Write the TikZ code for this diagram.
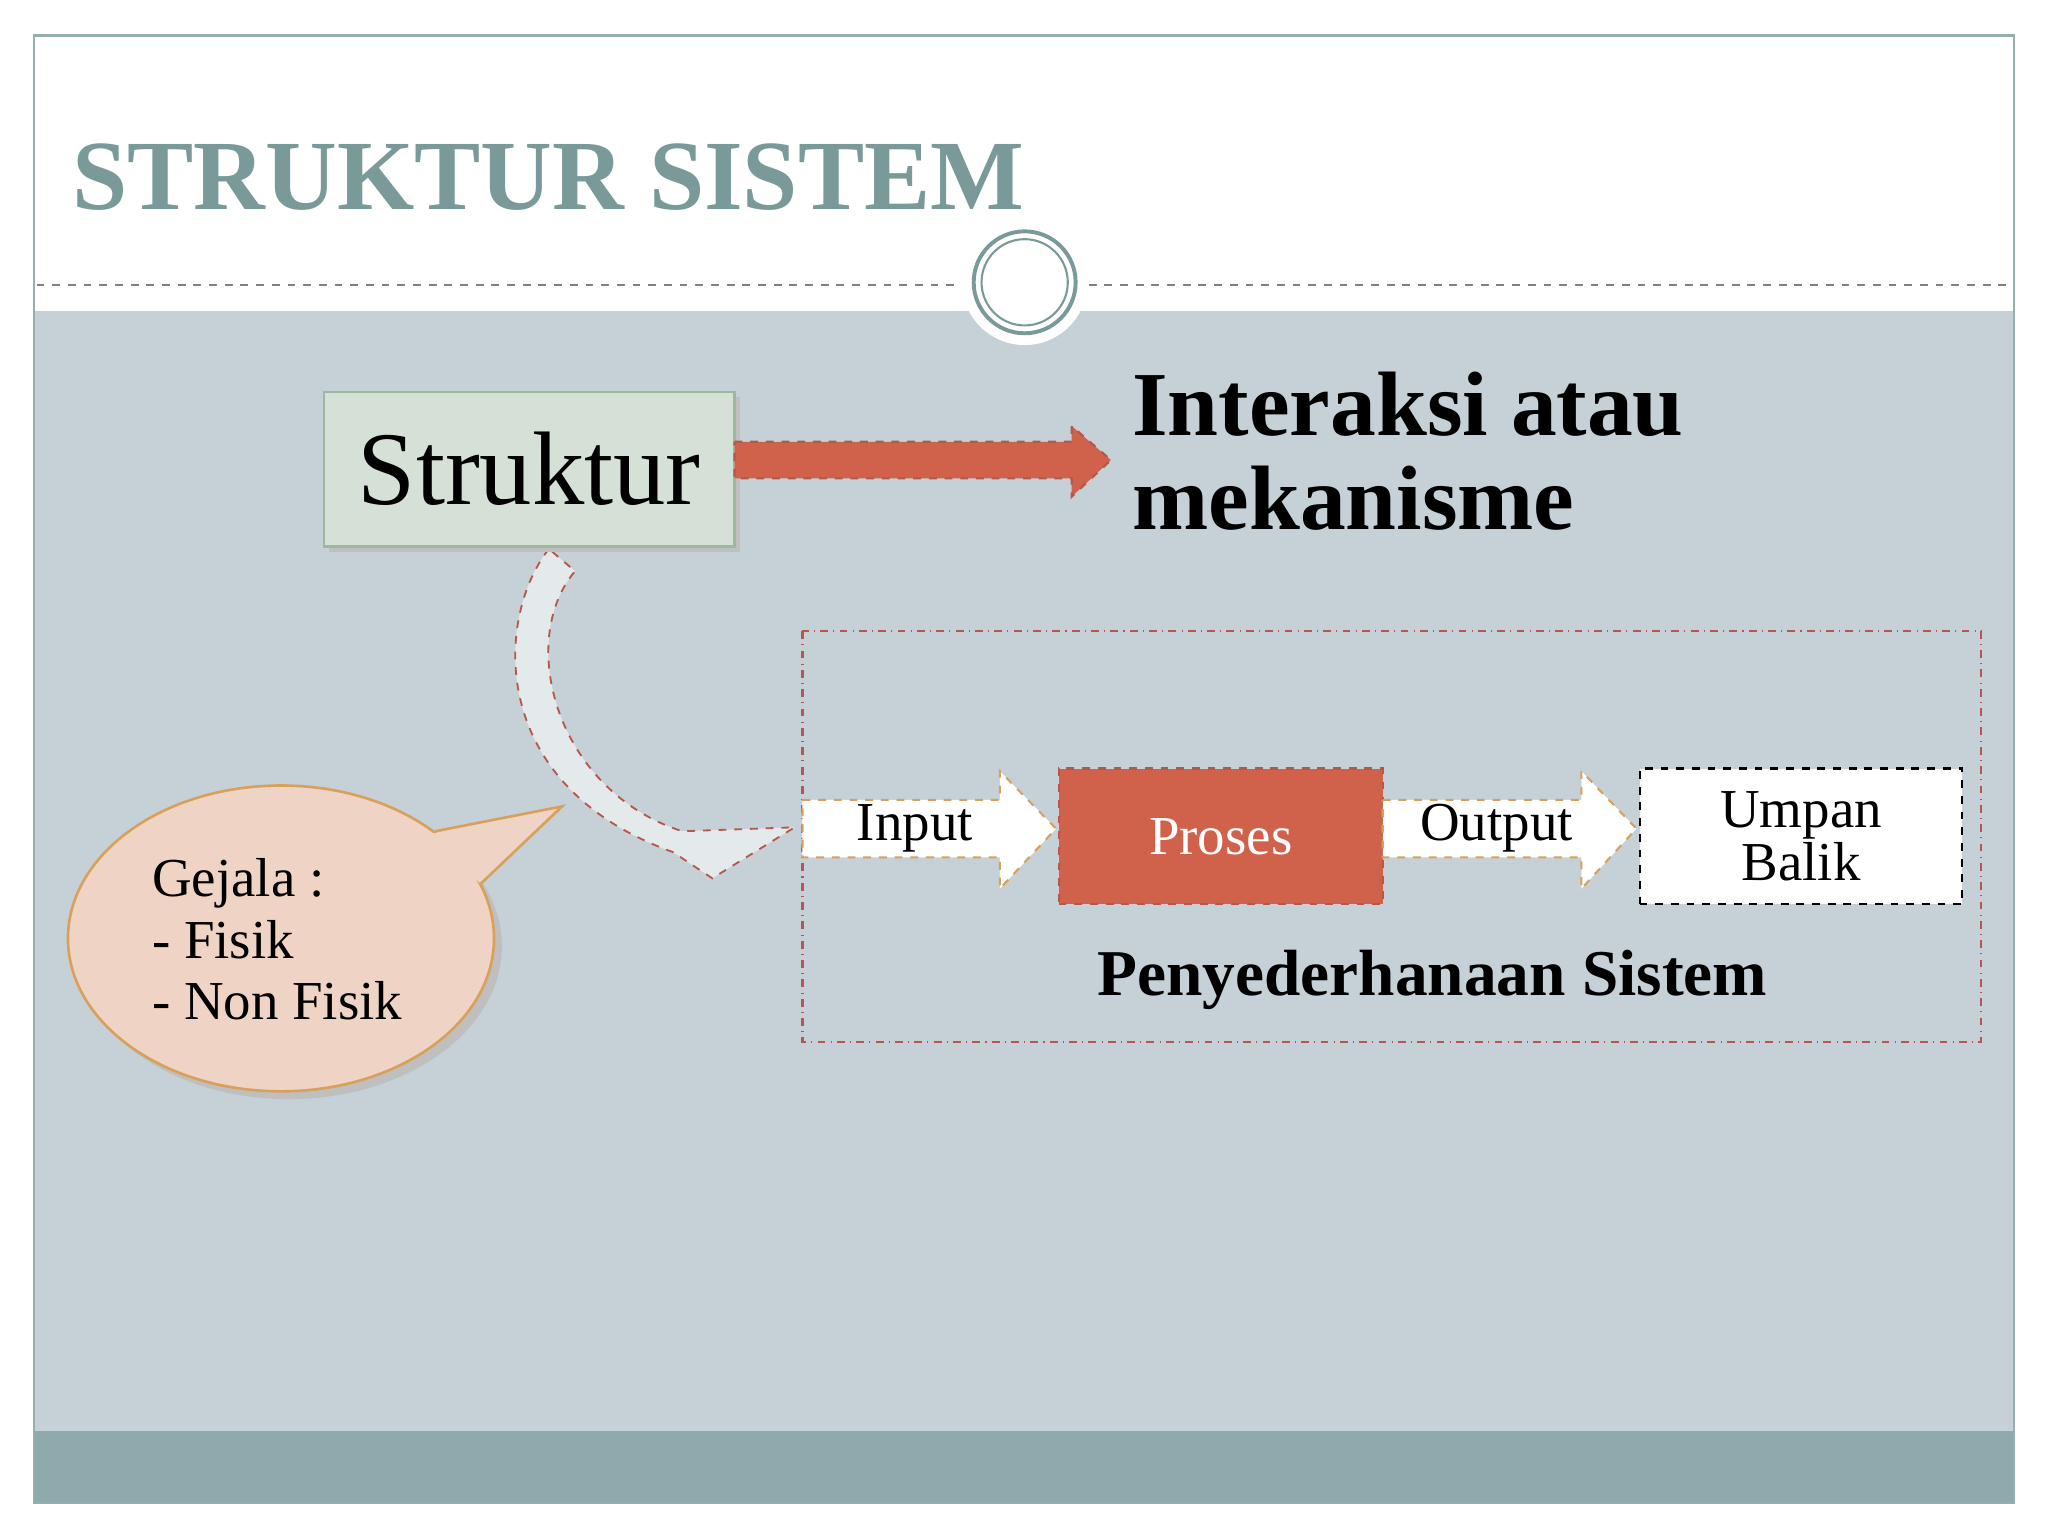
\documentclass[tikz,border=0pt]{standalone}
\usepackage{fontspec}
\setmainfont{Liberation Serif}
\definecolor{bgblue}{HTML}{C5D1D6}
\definecolor{band}{HTML}{8EAAAD}
\definecolor{teal}{HTML}{7A9A9A}
\definecolor{redf}{HTML}{D0614A}
\definecolor{redd}{HTML}{B5574A}
\definecolor{orng}{HTML}{D9A05A}
\definecolor{greenf}{HTML}{D5E0D6}
\definecolor{greend}{HTML}{9DB89F}
\definecolor{peach}{HTML}{EFD3C5}
\newcommand{\fs}[1]{\fontsize{#1}{1.2\dimexpr#1pt\relax}\selectfont}
\begin{document}
\begin{tikzpicture}[x=0.5pt,y=-0.5pt,
  blk/.style={line width=0.8pt, dashed}]
\useasboundingbox (0,0) rectangle (1567,1175);
\fill[white] (0,0) rectangle (1567,1175);
\fill[bgblue] (26,238) rectangle (1541,1095);
\fill[band] (26,1095) rectangle (1541,1150);
\draw[teal!80, line width=1pt] (26,27) rectangle (1541,1150);
\draw[gray, dashed, line width=0.6pt] (28,218) -- (735,218);
\draw[gray, dashed, line width=0.6pt] (833,218) -- (1540,218);
\fill[white] (784,216) circle (48);
\draw[teal, line width=1.5pt] (784,216) circle (39);
\draw[teal, line width=0.8pt] (784,216) circle (33);
\node[anchor=base west, text=teal, font=\fs{38}\bfseries, inner sep=0] (title) at (55,160) {STRUKTUR SISTEM};
% curved arrow
\path[draw=redd, dashed, line width=0.7pt, fill=white, fill opacity=0.55]
 (420,420) .. controls (380,470) and (370,600) .. (515,652) -- (545,672) -- (608,633) -- (522,636)
 .. controls (425,605) and (395,490) .. (440,437) -- cycle;
% struktur box
\fill[black!25] (252,304) rectangle (566,422);
\node[draw=greend, fill=greenf, line width=1pt, minimum width=157pt, minimum height=59pt, font=\fs{40}] (struk) at (405,359) {Struktur};
% red arrow
\path[fill=redf, draw=redd, dashed, line width=0.8pt] (562,338) -- (820,338) -- (820,326) -- (850,352) -- (820,380) -- (820,366) -- (562,366) -- cycle;
\node[anchor=base west, font=\fs{35}\bfseries, inner sep=0] (inter) at (866,333) {Interaksi atau};
\node[anchor=base west, font=\fs{35}\bfseries, inner sep=0] (mek) at (866,405) {mekanisme};
% dash-dot box
\draw[redd, dash dot, line width=0.8pt] (614,483) rectangle (1516,797);
% input arrow
\path[fill=white, draw=orng, blk] (614,612) -- (765,612) -- (765,590) -- (808,634) -- (765,680) -- (765,656) -- (614,656) -- cycle;
\node[font=\fs{21}] (input) at (700,634) {Input};
\node[fill=redf, draw=redd, blk, minimum width=124pt, minimum height=52pt, text=white, font=\fs{21}] (proses) at (934,640) {Proses};
\path[fill=white, draw=orng, blk] (1058,612) -- (1210,612) -- (1210,590) -- (1252,634) -- (1210,680) -- (1210,656) -- (1058,656) -- cycle;
\node[font=\fs{21}] (output) at (1145,634) {Output};
\node[fill=white, draw=black, blk, minimum width=123.5pt, minimum height=52pt, font=\fs{21}, align=center] (umpan) at (1378,640) {Umpan\\[-5pt]Balik};
\node[font=\fs{25}\bfseries] (peny) at (1096,750) {Penyederhanaan Sistem};
% callout
\fill[black!25] (221,724) ellipse (163 and 117);
\path[fill=peach, draw=orng, line width=1pt] (215,718) ellipse (163 and 117);
\path[fill=peach] (320,640) -- (430,617) -- (368,676) -- cycle;
\draw[orng, line width=1pt] (333,636) -- (430,617) -- (368,676);
\node[anchor=base west, font=\fs{21}, inner sep=0] (g1) at (116,686) {Gejala :};
\node[anchor=base west, font=\fs{21}, inner sep=0] (g2) at (116,733) {- Fisik};
\node[anchor=base west, font=\fs{21}, inner sep=0] (g3) at (116,780) {- Non Fisik};
\end{tikzpicture}
\end{document}
